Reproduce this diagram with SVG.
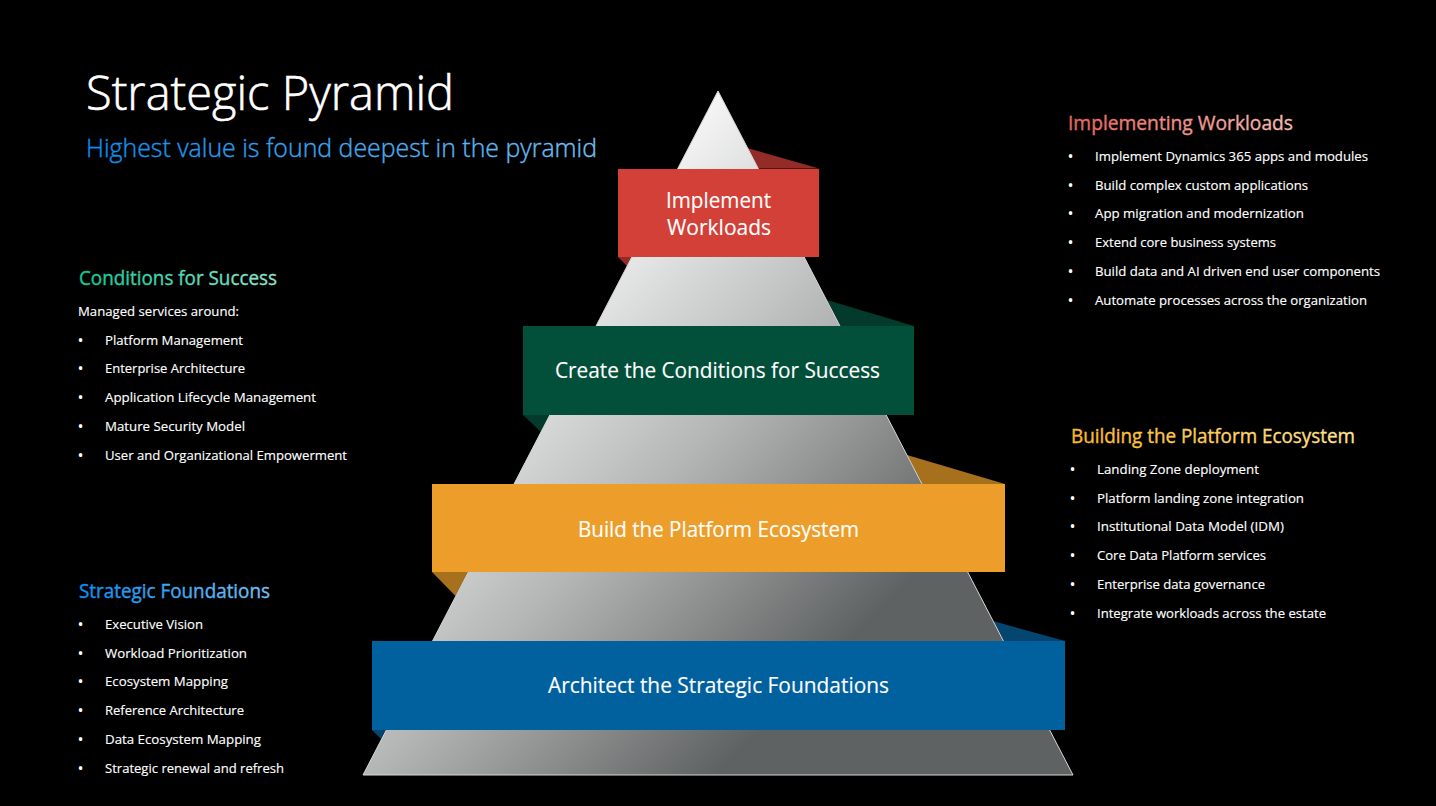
<svg xmlns="http://www.w3.org/2000/svg" width="1436" height="806" viewBox="0 0 1436 806">
<style>
text{font-family:"Open Sans","Noto Sans","Liberation Sans",sans-serif;fill:#fff}
.b{font-size:13.4px;stroke:#fff;stroke-width:.15}
.d{font-size:16px}
.h{font-size:19.5px;stroke-width:.35}
.l{font-size:22px;text-anchor:middle;stroke:#fff;stroke-width:.15}
</style>
<defs>
<linearGradient id="py" gradientUnits="userSpaceOnUse" x1="400" y1="400" x2="745" y2="745">
<stop offset="0" stop-color="#f7f7f7"/><stop offset=".5" stop-color="#b4b6b6"/><stop offset=".7" stop-color="#939595"/><stop offset="1" stop-color="#5f6262"/>
</linearGradient>
<linearGradient id="gs"><stop offset="0" stop-color="#0a8ff0"/><stop offset="1" stop-color="#78c2f2"/></linearGradient>
<linearGradient id="gg"><stop offset="0" stop-color="#0fc896"/><stop offset="1" stop-color="#93e6cd"/></linearGradient>
<linearGradient id="gr"><stop offset="0" stop-color="#e8635e"/><stop offset="1" stop-color="#f4bdb5"/></linearGradient>
<linearGradient id="gy"><stop offset="0" stop-color="#fdb827"/><stop offset="1" stop-color="#ffe696"/></linearGradient>
</defs>
<rect width="1436" height="806" fill="#000"/>

<g id="title">
<text x="86" y="110" font-size="47" font-weight="300" stroke="#fff" stroke-width=".6" textLength="368" lengthAdjust="spacingAndGlyphs">Strategic Pyramid</text>
<text x="86" y="157" font-size="25.5" font-weight="300" style="fill:url(#gs);stroke:url(#gs);stroke-width:.35" textLength="511" lengthAdjust="spacingAndGlyphs">Highest value is found deepest in the pyramid</text>
</g>

<g id="pyramid">
<polygon points="747.5,148 819,168.5 757,168.5" fill="#932b26"/>
<polygon points="618,257 632,257 627,266" fill="#932b26"/>
<polygon points="827,300 914,326 840,326" fill="#033a2b"/>
<polygon points="523,415 550,415 541,432" fill="#033a2b"/>
<polygon points="907,455 1005,484 922,484" fill="#a6701d"/>
<polygon points="432,572 468,572 455.5,596" fill="#a6701d"/>
<polygon points="993,621 1065,641 1004,641" fill="#04466f"/>
<polygon points="372,730 386,730 381,739" fill="#04466f"/>
<polygon points="718,91 1073,775 363,775" fill="url(#py)" stroke="#d6d6d6" stroke-width="1"/>
</g>

<g id="tier-workloads">
<rect x="618" y="169" width="201" height="88" fill="#d24038"/>
<text class="l" x="718.5" y="208" textLength="105" lengthAdjust="spacingAndGlyphs">Implement</text>
<text class="l" x="719" y="235" textLength="104" lengthAdjust="spacingAndGlyphs">Workloads</text>
</g>
<g id="tier-conditions">
<rect x="523" y="326" width="391" height="89" fill="#024f3a"/>
<text class="l" x="717.5" y="378" textLength="325" lengthAdjust="spacingAndGlyphs">Create the Conditions for Success</text>
</g>
<g id="tier-platform">
<rect x="432" y="484" width="573" height="88" fill="#ed9d29"/>
<text class="l" x="718.5" y="537" textLength="281" lengthAdjust="spacingAndGlyphs">Build the Platform Ecosystem</text>
</g>
<g id="tier-foundations">
<rect x="372" y="641" width="693" height="89" fill="#01619f"/>
<text class="l" x="718.5" y="693" textLength="341" lengthAdjust="spacingAndGlyphs">Architect the Strategic Foundations</text>
</g>

<g id="panel-conditions">
<text class="h" x="79" y="285" style="fill:url(#gg);stroke:url(#gg)" textLength="198" lengthAdjust="spacingAndGlyphs">Conditions for Success</text>
<text class="b" x="78" y="316" textLength="161" lengthAdjust="spacingAndGlyphs">Managed services around:</text>
<text class="d" x="77.5" y="346">•</text><text class="b" x="105" y="345" textLength="138" lengthAdjust="spacingAndGlyphs">Platform Management</text>
<text class="d" x="77.5" y="374">•</text><text class="b" x="105" y="373" textLength="140" lengthAdjust="spacingAndGlyphs">Enterprise Architecture</text>
<text class="d" x="77.5" y="403">•</text><text class="b" x="105" y="402" textLength="211" lengthAdjust="spacingAndGlyphs">Application Lifecycle Management</text>
<text class="d" x="77.5" y="432">•</text><text class="b" x="105" y="431" textLength="140" lengthAdjust="spacingAndGlyphs">Mature Security Model</text>
<text class="d" x="77.5" y="461">•</text><text class="b" x="105" y="460" textLength="242" lengthAdjust="spacingAndGlyphs">User and Organizational Empowerment</text>
</g>

<g id="panel-foundations">
<text class="h" x="79" y="598" style="fill:url(#gs);stroke:url(#gs)" textLength="191" lengthAdjust="spacingAndGlyphs">Strategic Foundations</text>
<text class="d" x="77.5" y="630">•</text><text class="b" x="105" y="629" textLength="98" lengthAdjust="spacingAndGlyphs">Executive Vision</text>
<text class="d" x="77.5" y="659">•</text><text class="b" x="105" y="658" textLength="142" lengthAdjust="spacingAndGlyphs">Workload Prioritization</text>
<text class="d" x="77.5" y="687">•</text><text class="b" x="105" y="686" textLength="123" lengthAdjust="spacingAndGlyphs">Ecosystem Mapping</text>
<text class="d" x="77.5" y="716">•</text><text class="b" x="105" y="715" textLength="139" lengthAdjust="spacingAndGlyphs">Reference Architecture</text>
<text class="d" x="77.5" y="745">•</text><text class="b" x="105" y="744" textLength="156" lengthAdjust="spacingAndGlyphs">Data Ecosystem Mapping</text>
<text class="d" x="77.5" y="774">•</text><text class="b" x="105" y="773" textLength="179" lengthAdjust="spacingAndGlyphs">Strategic renewal and refresh</text>
</g>

<g id="panel-workloads">
<text class="h" x="1068" y="130" style="fill:url(#gr);stroke:url(#gr)" textLength="225" lengthAdjust="spacingAndGlyphs">Implementing Workloads</text>
<text class="d" x="1067.5" y="162">•</text><text class="b" x="1095" y="161" textLength="273" lengthAdjust="spacingAndGlyphs">Implement Dynamics 365 apps and modules</text>
<text class="d" x="1067.5" y="191">•</text><text class="b" x="1095" y="190" textLength="213" lengthAdjust="spacingAndGlyphs">Build complex custom applications</text>
<text class="d" x="1067.5" y="219">•</text><text class="b" x="1095" y="218" textLength="209" lengthAdjust="spacingAndGlyphs">App migration and modernization</text>
<text class="d" x="1067.5" y="248">•</text><text class="b" x="1095" y="247" textLength="181" lengthAdjust="spacingAndGlyphs">Extend core business systems</text>
<text class="d" x="1067.5" y="277">•</text><text class="b" x="1095" y="276" textLength="285" lengthAdjust="spacingAndGlyphs">Build data and AI driven end user components</text>
<text class="d" x="1067.5" y="306">•</text><text class="b" x="1095" y="305" textLength="272" lengthAdjust="spacingAndGlyphs">Automate processes across the organization</text>
</g>

<g id="panel-platform">
<text class="h" x="1071" y="443" style="fill:url(#gy);stroke:url(#gy)" textLength="284" lengthAdjust="spacingAndGlyphs">Building the Platform Ecosystem</text>
<text class="d" x="1069.5" y="475">•</text><text class="b" x="1097" y="474" textLength="162" lengthAdjust="spacingAndGlyphs">Landing Zone deployment</text>
<text class="d" x="1069.5" y="504">•</text><text class="b" x="1097" y="503" textLength="207" lengthAdjust="spacingAndGlyphs">Platform landing zone integration</text>
<text class="d" x="1069.5" y="532">•</text><text class="b" x="1097" y="531" textLength="187" lengthAdjust="spacingAndGlyphs">Institutional Data Model (IDM)</text>
<text class="d" x="1069.5" y="561">•</text><text class="b" x="1097" y="560" textLength="169" lengthAdjust="spacingAndGlyphs">Core Data Platform services</text>
<text class="d" x="1069.5" y="590">•</text><text class="b" x="1097" y="589" textLength="168" lengthAdjust="spacingAndGlyphs">Enterprise data governance</text>
<text class="d" x="1069.5" y="619">•</text><text class="b" x="1097" y="618" textLength="229" lengthAdjust="spacingAndGlyphs">Integrate workloads across the estate</text>
</g>
</svg>
